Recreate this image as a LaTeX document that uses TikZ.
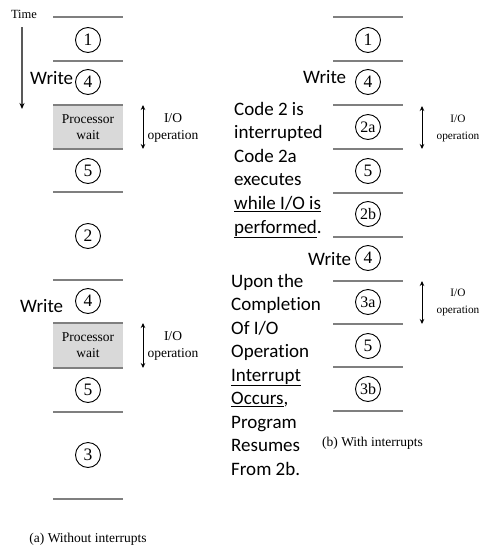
\documentclass[tikz,border=0pt]{standalone}
\usepackage{fontspec}
\setmainfont{Liberation Serif}
\newfontfamily\carlito[Ligatures=NoCommon]{Carlito}
\usetikzlibrary{arrows.meta}
\definecolor{rulegray}{HTML}{7F7F7F}
\definecolor{waitfill}{HTML}{D9D9D9}
\begin{document}
\begin{tikzpicture}[x=1pt,y=-1pt,
  divider/.style={draw=rulegray, line width=1.3pt},
  num/.style={circle, draw, line width=0.9pt, minimum size=25pt, inner sep=0pt, font=\fontsize{17.5}{17.5}\selectfont},
  numtwo/.style={num, font=\fontsize{16}{16}\selectfont},
  note/.style={font=\carlito\fontsize{19}{23}\selectfont, anchor=base west, inner sep=0pt},
  iolab/.style={font=\fontsize{13.5}{17}\selectfont, align=center, inner sep=0pt},
  iolabs/.style={font=\fontsize{11.3}{17}\selectfont, align=center, inner sep=0pt},
  ioarrow/.style={line width=0.9pt, {Stealth[length=5pt,width=4.5pt]}-{Stealth[length=5pt,width=4.5pt]}},
  waitbox/.style={fill=waitfill, draw=none, minimum width=70pt, minimum height=44pt, inner sep=0pt, align=center, font=\fontsize{13.5}{16}\selectfont},
  caption/.style={font=\fontsize{13.5}{16}\selectfont, inner sep=0pt}]
\useasboundingbox (0,0) rectangle (482,552);

% ---------- (a) Without interrupts ----------
\node[font=\fontsize{12.5}{14}\selectfont, inner sep=0pt] (time) at (24,14) {Time};
\coordinate (t1) at (22,27);
\coordinate (t2) at (22,109);
\draw[draw=rulegray!70!black, line width=1.2pt, -{Stealth[length=6pt,width=5pt,color=black]}] (t1) -- (t2);

\node[waitbox] (waitA) at (88,127) {Processor\\wait};
\node[waitbox] (waitB) at (88,345.5) {Processor\\wait};

\foreach \y in {17,61,105,149,192,280,323,368,412,499}
  \draw[divider] (53,\y) -- (123,\y);

\node[num] (a1)  at (88,40)  {1};
\node[num] (a4a) at (88,82)  {4};
\node[num] (a5a) at (88,171) {5};
\node[num] (a2)  at (88,236) {2};
\node[num] (a4b) at (88,301) {4};
\node[num] (a5b) at (88,390) {5};
\node[num] (a3)  at (88,455) {3};

\node[note] (wA1) at (30,84) {Write};
\node[note] (wA2) at (20,312) {Write};

\coordinate (ioA1t) at (143,105);
\coordinate (ioA1b) at (143,149);
\draw[ioarrow] (ioA1t) -- (ioA1b);
\node[iolab] (ioA1) at (173,128) {I/O\\operation};
\coordinate (ioA2t) at (143,323);
\coordinate (ioA2b) at (143,368);
\draw[ioarrow] (ioA2t) -- (ioA2b);
\node[iolab] (ioA2) at (173,346) {I/O\\operation};

\node[caption] (capA) at (88,539) {(a) Without interrupts};

% ---------- (b) With interrupts ----------
\foreach \y in {17,61,105,149,193,237,281,324,367,411}
  \draw[divider] (333,\y) -- (403,\y);

\node[num] (b1)  at (368,40)  {1};
\node[num] (b4a) at (368,82)  {4};
\node[numtwo] (b2a) at (368,127) {2a};
\node[num] (b5a) at (368,171) {5};
\node[numtwo] (b2b) at (368,214) {2b};
\node[num] (b4b) at (368,258) {4};
\node[numtwo] (b3a) at (368,302) {3a};
\node[num] (b5b) at (368,346) {5};
\node[numtwo] (b3b) at (368,389) {3b};

\node[note] (wB1) at (303,83) {Write};
\node[note] (wB2) at (308,265) {Write};

\coordinate (ioB1t) at (422,106);
\coordinate (ioB1b) at (422,149);
\draw[ioarrow] (ioB1t) -- (ioB1b);
\node[iolabs] (ioB1) at (458,128) {I/O\\operation};
\coordinate (ioB2t) at (422,281);
\coordinate (ioB2b) at (422,324);
\draw[ioarrow] (ioB2t) -- (ioB2b);
\node[iolabs] (ioB2) at (458,302) {I/O\\operation};

\node[caption] (capB) at (372.5,443) {(b) With interrupts};

% notes
\node[note] (n1) at (234,115)   {Code 2 is};
\node[note] (n2) at (234,138.6) {interrupted};
\node[note] (n3) at (234,162.2) {Code 2a};
\node[note] (n4) at (234,185.8) {executes};
\node[note] (n5) at (234,209.4) {\underline{while I/O is}};
\node[note] (n6) at (234,233)   {\underline{performed}.};

\node[note] (m1) at (231,287)   {Upon the};
\node[note] (m2) at (231,310.5) {Completion};
\node[note] (m3) at (231,334)   {Of I/O};
\node[note] (m4) at (231,357.5) {Operation};
\node[note] (m5) at (231,381)   {\underline{Interrupt}};
\node[note] (m6) at (231,404.5) {\underline{Occurs},};
\node[note] (m7) at (231,428)   {Program};
\node[note] (m8) at (231,451.5) {Resumes};
\node[note] (m9) at (231,475)   {From 2b.};
\end{tikzpicture}
\end{document}
